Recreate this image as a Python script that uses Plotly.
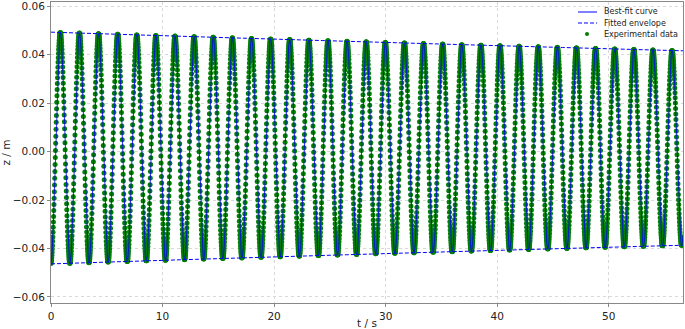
import numpy as np
import plotly.graph_objects as go

# Fitted model parameters
amp0 = 0.04785        # initial amplitude (m)
tau = 322.8           # decay time constant (s)
period = 1.7136       # oscillation period (s)
t_peak = 0.834        # time of first maximum (s)
offset = 0.0015       # equilibrium offset (m)
t_end = 56.65         # end of the recording (s)
dt = 1.0 / 60.0       # sampling interval (s)

x_ticks = [0, 10, 20, 30, 40, 50]
y_ticks = [-0.06, -0.04, -0.02, 0.00, 0.02, 0.04, 0.06]
legend_labels = ["Best-fit curve", "Fitted envelope", "Experimental data"]

t_data = np.arange(0.0, t_end, dt)
t_fit = np.linspace(0.0, t_end, 6000)


def model(t):
    return offset + amp0 * np.exp(-t / tau) * np.cos(2 * np.pi * (t - t_peak) / period)


env_up = offset + amp0 * np.exp(-t_fit / tau)
env_lo = offset - amp0 * np.exp(-t_fit / tau)

BLUE = "#0000ff"
GREEN = "#008000"
DASH = "4px,2px"

fig = go.Figure()
fig.add_trace(go.Scatter(x=t_data, y=model(t_data), mode="markers",
                         marker=dict(color=GREEN, size=5),
                         name=legend_labels[2], showlegend=False))
fig.add_trace(go.Scatter(x=t_fit, y=model(t_fit), mode="lines",
                         line=dict(color=BLUE, width=1), opacity=0.8,
                         name=legend_labels[0], showlegend=False))
fig.add_trace(go.Scatter(x=t_fit, y=env_up, mode="lines",
                         line=dict(color=BLUE, width=1, dash=DASH),
                         name=legend_labels[1], showlegend=False))
fig.add_trace(go.Scatter(x=t_fit, y=env_lo, mode="lines",
                         line=dict(color=BLUE, width=1, dash=DASH),
                         name=legend_labels[1], showlegend=False))

# Compact legend (matplotlib-like), placed in paper pixels
W, H = 685, 329
ML, MR, MT, MB = 51, 2, 2, 26
pw, ph = W - ML - MR, H - MT - MB


def px(xp):
    return (xp - ML) / pw


def py(yp):
    return (H - MB - yp) / ph


rows_y = [12, 23, 34]
shapes = []
annotations = []
for i, (lab, yy) in enumerate(zip(legend_labels, rows_y)):
    if i < 2:
        shapes.append(dict(type="line", xref="paper", yref="paper",
                           x0=px(578), x1=px(597), y0=py(yy), y1=py(yy),
                           line=dict(color=BLUE, width=1,
                                     dash=("solid" if i == 0 else DASH))))
    else:
        shapes.append(dict(type="circle", xref="paper", yref="paper",
                           x0=px(585), x1=px(589), y0=py(yy + 2), y1=py(yy - 2),
                           fillcolor=GREEN, line=dict(color=GREEN, width=0)))
    annotations.append(dict(text=lab, xref="paper", yref="paper",
                            x=px(602), y=py(yy), xanchor="left", yanchor="middle",
                            showarrow=False, font=dict(size=8, color="#222")))

axis_common = dict(showline=True, linecolor="#888888", linewidth=1, mirror=True,
                   ticks="outside", ticklen=3, tickcolor="#888888",
                   showgrid=True, gridcolor="#d8d8d8", griddash="dot", gridwidth=1,
                   zeroline=False, automargin=False,
                   tickfont=dict(family="DejaVu Sans", size=10.5, color="#222"))

fig.update_layout(
    width=W, height=H,
    margin=dict(l=ML, r=MR, t=MT, b=MB),
    plot_bgcolor="white", paper_bgcolor="white",
    font=dict(family="DejaVu Sans", size=10, color="#222"),
    showlegend=False,
    shapes=shapes, annotations=annotations,
    xaxis=dict(range=[0, t_end], tickvals=x_ticks,
               title=dict(text="t / s", standoff=0, font=dict(size=10.5)), **axis_common),
    yaxis=dict(range=[-0.0625, 0.0618], tickvals=y_ticks, tickformat=".2f",
               title=dict(text="z / m", standoff=2, font=dict(size=10.5)), **axis_common),
)

fig.write_html("out.html", config={"displayModeBar": False},
               post_script="document.body.style.margin='0';document.body.style.padding='0';")
